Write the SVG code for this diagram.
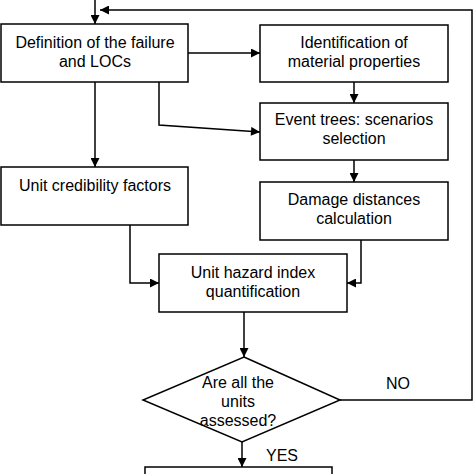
<svg xmlns="http://www.w3.org/2000/svg" width="474" height="474" viewBox="0 0 474 474">
<defs>
<marker id="ah" viewBox="0 0 10 10" refX="10" refY="5" markerWidth="10" markerHeight="9" markerUnits="userSpaceOnUse" orient="auto">
<path d="M0,0 L10,5 L0,10 z" fill="#000"/>
</marker>
</defs>
<style>
.box{fill:#fff;stroke:#000;stroke-width:1.5}
.t{font-family:"Liberation Sans",Arial,sans-serif;font-size:16px;fill:#000;text-anchor:middle}
.c{fill:none;stroke:#000;stroke-width:1.5}
</style>
<rect width="474" height="474" fill="#fff"/>
<g id="connectors">
<path class="c" d="M95,0 V24" marker-end="url(#ah)"/>
<path class="c" d="M340,400 H472 V10 H100" marker-end="url(#ah)"/>
<path class="c" d="M188,53 H260" marker-end="url(#ah)"/>
<path class="c" d="M354,82 V103" marker-end="url(#ah)"/>
<path class="c" d="M159,82 V125 L260,132" marker-end="url(#ah)"/>
<path class="c" d="M354,160 V182" marker-end="url(#ah)"/>
<path class="c" d="M95,82 V167" marker-end="url(#ah)"/>
<path class="c" d="M130,225 V283 H159" marker-end="url(#ah)"/>
<path class="c" d="M361,240 V283 H347" marker-end="url(#ah)"/>
<path class="c" d="M244,312 V357" marker-end="url(#ah)"/>
<path class="c" d="M242,442 V467" marker-end="url(#ah)"/>
<text class="t" x="282" y="461">YES</text>
<text class="t" x="398" y="389">NO</text>
</g>
<g id="n1"><rect class="box" x="1" y="24" width="187" height="58"/>
<text class="t" x="95" y="48">Definition of the failure</text><text class="t" x="95" y="67">and LOCs</text></g>
<g id="n2"><rect class="box" x="260" y="25" width="188" height="57"/>
<text class="t" x="354" y="48">Identification of</text><text class="t" x="354" y="67">material properties</text></g>
<g id="n3"><rect class="box" x="260" y="103" width="188" height="57"/>
<text class="t" x="354" y="125">Event trees: scenarios</text><text class="t" x="354" y="144">selection</text></g>
<g id="n4"><rect class="box" x="260" y="182" width="188" height="58"/>
<text class="t" x="354" y="205">Damage distances</text><text class="t" x="354" y="224">calculation</text></g>
<g id="n5"><rect class="box" x="1" y="167" width="187" height="58"/>
<text class="t" x="95" y="191">Unit credibility factors</text></g>
<g id="n6"><rect class="box" x="159" y="254" width="188" height="58"/>
<text class="t" x="253" y="278">Unit hazard index</text><text class="t" x="253" y="297">quantification</text></g>
<g id="n7"><polygon class="box" points="244,357 340,400 242,442 143,400"/>
<text class="t" x="238" y="388">Are all the</text><text class="t" x="238" y="407">units</text><text class="t" x="238" y="426">assessed?</text></g>
<g id="n8"><rect class="box" x="145" y="467" width="187" height="20"/></g>
</svg>
